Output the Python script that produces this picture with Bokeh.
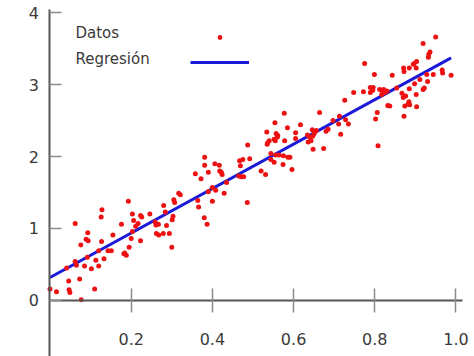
from bokeh.plotting import figure
from bokeh.models import Range1d, LinearAxis, FixedTicker, Legend, LegendItem, Label, PrintfTickFormatter
from bokeh.embed import file_html
from bokeh.resources import INLINE

# scatter data
data_x = [
    0.062, 0.128, 0.126, 0.193, 0.203, 0.176, 0.206, 0.223, 0.226, 0.246,
    0.217, 0.211, 0.203, 0.093, 0.155, 0.089, 0.094, 0.076, 0.127, 0.223,
    0.200, 0.195, 0.143, 0.151, 0.120, 0.184, 0.188, 0.182, 0.133, 0.113,
    0.092, 0.062, 0.065, 0.085, 0.120, 0.102, 0.041, 0.046, 0.073, 0.047,
    0.049, 0.000, 0.016, 0.110, 0.077,
    0.487, 0.492, 0.475, 0.467, 0.469, 0.465, 0.471, 0.477, 0.486, 0.381,
    0.381, 0.406, 0.417, 0.418, 0.422, 0.424, 0.390, 0.358, 0.372, 0.435,
    0.400, 0.408, 0.390, 0.429, 0.400, 0.364, 0.366, 0.380, 0.387, 0.317,
    0.321, 0.305, 0.307, 0.280, 0.284, 0.303, 0.301, 0.259, 0.267, 0.261,
    0.287, 0.279, 0.294, 0.262, 0.268, 0.300,
    0.748, 0.726, 0.713, 0.697, 0.711, 0.728, 0.735, 0.716, 0.664, 0.685,
    0.680, 0.646, 0.656, 0.651, 0.647, 0.634, 0.640, 0.636, 0.643, 0.648,
    0.674, 0.617, 0.605, 0.605, 0.577, 0.554, 0.585, 0.534, 0.557, 0.561,
    0.560, 0.552, 0.555, 0.540, 0.536, 0.535, 0.578, 0.544, 0.556, 0.564,
    0.575, 0.586, 0.591, 0.544, 0.552, 0.574, 0.596, 0.520, 0.531,
    0.950, 0.919, 0.936, 0.933, 0.932, 0.903, 0.897, 0.895, 0.902, 0.885,
    0.871, 0.872, 0.775, 0.799, 0.843, 0.911, 0.928, 0.944, 0.966, 0.967,
    0.988, 0.930, 0.898, 0.885, 0.922, 0.919, 0.854, 0.902, 0.867, 0.876,
    0.870, 0.884, 0.882, 0.886, 0.874, 0.903, 0.872, 0.772, 0.789, 0.796,
    0.789, 0.795, 0.812, 0.818, 0.822, 0.830, 0.817, 0.825, 0.832, 0.837,
    0.806, 0.802, 0.808,
]
data_y = [
    1.07, 1.26, 1.16, 1.38, 1.20, 1.06, 1.11, 1.18, 1.16, 1.20,
    1.07, 1.03, 0.96, 0.94, 0.91, 0.85, 0.83, 0.77, 0.82, 0.83,
    0.86, 0.74, 0.69, 0.69, 0.69, 0.66, 0.63, 0.65, 0.58, 0.56,
    0.60, 0.54, 0.49, 0.48, 0.48, 0.44, 0.45, 0.27, 0.30, 0.15,
    0.11, 0.16, 0.12, 0.16, 0.01,
    2.16, 1.97, 1.96, 1.94, 1.87, 1.73, 1.72, 1.72, 1.36, 1.99,
    1.88, 1.90, 1.88, 1.80, 1.78, 1.75, 1.78, 1.76, 1.69, 1.64,
    1.57, 1.53, 1.51, 1.49, 1.38, 1.39, 1.30, 1.15, 1.06, 1.49,
    1.47, 1.40, 1.36, 1.32, 1.23, 1.17, 1.12, 1.09, 1.06, 1.05,
    1.04, 0.93, 0.93, 0.93, 0.91, 0.74,
    2.89, 2.78, 2.56, 2.50, 2.45, 2.51, 2.45, 2.31, 2.61, 2.38,
    2.35, 2.37, 2.36, 2.32, 2.28, 2.30, 2.27, 2.20, 2.22, 2.10,
    2.11, 2.44, 2.33, 2.25, 2.60, 2.47, 2.40, 2.34, 2.32, 2.29,
    2.27, 2.24, 2.22, 2.22, 2.19, 2.17, 2.22, 2.04, 2.02, 2.02,
    2.01, 1.99, 1.99, 1.96, 1.92, 1.89, 1.82, 1.80, 1.75,
    3.66, 3.57, 3.45, 3.42, 3.38, 3.32, 3.29, 3.28, 3.23, 3.23,
    3.23, 3.18, 3.29, 3.14, 3.13, 3.07, 3.14, 3.14, 3.20, 3.16,
    3.13, 3.04, 3.01, 2.94, 2.95, 2.93, 2.95, 2.86, 2.88, 2.84,
    2.82, 2.76, 2.73, 2.72, 2.70, 2.69, 2.56, 2.90, 2.96, 2.96,
    2.89, 2.92, 2.93, 2.92, 2.93, 2.91, 2.86, 2.89, 2.71, 2.70,
    2.61, 2.52, 2.15,
]

# regression line end points
reg_x = [0.0, 0.988]
reg_y = [0.32, 3.37]

x_ticks = [0.2, 0.4, 0.6, 0.8, 1.0]
y_ticks = [0, 1, 2, 3, 4]
legend_labels = ["Datos", "Regresión"]

FONT = "DejaVu Sans"
TXT = "#3a3a3a"

p = figure(width=474, height=356, output_backend="svg", toolbar_location=None,
           x_axis_location=None, y_axis_location=None,
           x_range=Range1d(-0.1219, 1.0456), y_range=Range1d(-0.7778, 4.1667),
           min_border=0, min_border_left=0, min_border_right=0,
           min_border_top=0, min_border_bottom=0)
p.outline_line_color = None
p.xgrid.visible = False
p.ygrid.visible = False

xax = LinearAxis(fixed_location=0, ticker=FixedTicker(ticks=x_ticks), bounds=(0, 1.015),
                 formatter=PrintfTickFormatter(format="%.1f"))
xax.axis_line_color = "#555555"
xax.axis_line_width = 2
xax.major_tick_line_color = "#8a8a8a"
xax.major_tick_line_width = 1.5
xax.major_tick_in = 12
xax.major_tick_out = 12
xax.minor_tick_line_color = None
xax.major_label_standoff = 21
xax.major_label_text_font = FONT
xax.major_label_text_font_size = "16px"
xax.major_label_text_color = TXT
p.add_layout(xax, "below")

yax = LinearAxis(fixed_location=0, ticker=FixedTicker(ticks=y_ticks), bounds=(-1, 4.04))
yax.axis_line_color = "#555555"
yax.axis_line_width = 2
yax.major_tick_line_color = "#8a8a8a"
yax.major_tick_line_width = 1.5
yax.major_tick_in = 12
yax.major_tick_out = 0
yax.minor_tick_line_color = None
yax.major_label_standoff = 11
yax.major_label_text_font = FONT
yax.major_label_text_font_size = "16px"
yax.major_label_text_color = TXT
p.add_layout(yax, "left")

r_line = p.line(reg_x, reg_y, line_color="#1a1ad8", line_width=3)
r_pts = p.scatter(data_x, data_y, size=5, fill_color="#ee1111", line_color=None)

leg = Legend(items=[LegendItem(label="", renderers=[r_pts]),
                    LegendItem(label="", renderers=[r_line])],
             location=(190, 288), orientation="vertical",
             glyph_width=59, glyph_height=12, label_height=12, label_width=0,
             label_standoff=0, spacing=13, padding=0, margin=0,
             label_text_font_size="8px",
             border_line_color=None, background_fill_alpha=0)
p.add_layout(leg, "center")

p.add_layout(Label(x=0.0628, y=3.718, text=legend_labels[0], text_font=FONT,
                   text_font_size="15px", text_color=TXT, text_baseline="alphabetic"))
p.add_layout(Label(x=0.0628, y=3.351, text=legend_labels[1], text_font=FONT,
                   text_font_size="15px", text_color=TXT, text_baseline="alphabetic"))

open("out.html", "w").write(file_html(p, INLINE))
